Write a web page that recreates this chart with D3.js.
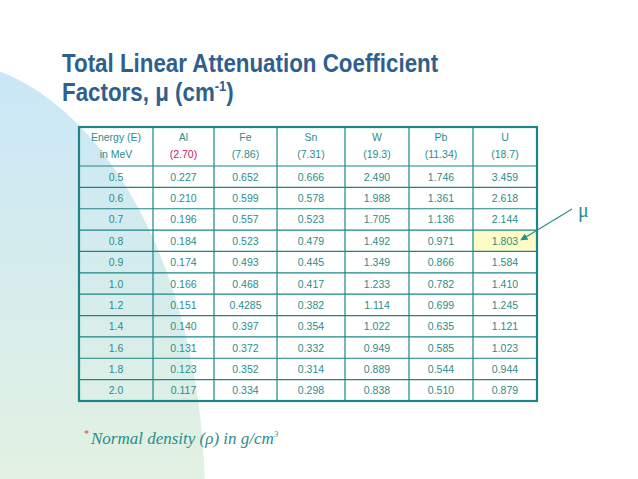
<!DOCTYPE html>
<html><head><meta charset="utf-8">
<script src="https://cdn.jsdelivr.net/npm/d3@7.9.0/dist/d3.min.js"></script>
<style>body{margin:0;background:#fff}svg{display:block}</style></head>
<body><svg id="c" width="638" height="479"></svg>
<script>
const elements = ["Al", "Fe", "Sn", "W", "Pb", "U"];
const densities = ["(2.70)", "(7.86)", "(7.31)", "(19.3)", "(11.34)", "(18.7)"];
const energies = ["0.5","0.6","0.7","0.8","0.9","1.0","1.2","1.4","1.6","1.8","2.0"];
const al = ["0.227","0.210","0.196","0.184","0.174","0.166","0.151","0.140","0.131","0.123","0.117"];
const fe = ["0.652","0.599","0.557","0.523","0.493","0.468","0.4285","0.397","0.372","0.352","0.334"];
const sn = ["0.666","0.578","0.523","0.479","0.445","0.417","0.382","0.354","0.332","0.314","0.298"];
const w  = ["2.490","1.988","1.705","1.492","1.349","1.233","1.114","1.022","0.949","0.889","0.838"];
const pb = ["1.746","1.361","1.136","0.971","0.866","0.782","0.699","0.635","0.585","0.544","0.510"];
const u  = ["3.459","2.618","2.144","1.803","1.584","1.410","1.245","1.121","1.023","0.944","0.879"];
const columns = [energies, al, fe, sn, w, pb, u];

const svg = d3.select("#c");
const teal = "#2b8d8a", line = "#1d8585";

// background shape
const defs = svg.append("defs");
const grad = defs.append("linearGradient").attr("id","bg").attr("x1",0).attr("y1",0).attr("x2",0).attr("y2",1);
grad.append("stop").attr("offset","0%").attr("stop-color","#c9e7f8");
grad.append("stop").attr("offset","55%").attr("stop-color","#e6f3df");
grad.append("stop").attr("offset","100%").attr("stop-color","#f9fbcc");
svg.append("ellipse").attr("cx",-60).attr("cy",500).attr("rx",265).attr("ry",440).attr("fill","url(#bg)");

// title
const title = svg.append("text").attr("font-family","Liberation Sans, Arial").attr("font-weight","bold")
  .attr("font-size",26).attr("fill","#2f5f8f").attr("transform","translate(62,0) scale(0.86,1)");
title.append("tspan").attr("x",0).attr("y",72).text("Total Linear Attenuation Coefficient");
title.append("tspan").attr("x",0).attr("y",101).text("Factors, \u03bc  (cm");
title.append("tspan").attr("font-size",15).attr("dy",-10).text("-1");
title.append("tspan").attr("dy",10).text(")");

// table
const colEdges = [79, 153, 214, 277, 345, 409, 473, 537];
const tableTop = 127, headBottom = 166, tableBottom = 401;
const y = d3.scaleBand().domain(energies).range([headBottom, tableBottom]);
const cx = i => (colEdges[i] + colEdges[i+1]) / 2;

// highlight cell U 0.8
svg.append("rect").attr("x", colEdges[6]).attr("y", y("0.8")).attr("width", colEdges[7]-colEdges[6])
  .attr("height", y.bandwidth()).attr("fill","#fdfcc6");

const g = svg.append("g").attr("font-family","Liberation Sans, Arial").attr("font-size",10.5).attr("text-anchor","middle").attr("fill",teal);
const hdr = [["Energy (E)","in MeV"]].concat(elements.map((e,i)=>[e, densities[i]]));
hdr.forEach((h,i)=>{
  g.append("text").attr("x",cx(i)).attr("y",141).text(h[0]);
  g.append("text").attr("x",cx(i)).attr("y",158).attr("fill", i===1 ? "#c0206a" : teal).text(h[1]);
});
columns.forEach((col,i)=>{
  g.selectAll(null).data(col).join("text")
    .attr("x",cx(i)).attr("y",(d,j)=>y(energies[j]) + y.bandwidth()/2 + 4).text(d=>d);
});
const gl = svg.append("g").attr("stroke",line).attr("stroke-width",1.2);
colEdges.slice(1,-1).forEach(e=>gl.append("line").attr("x1",e).attr("x2",e).attr("y1",tableTop).attr("y2",tableBottom));
energies.forEach(e=>gl.append("line").attr("x1",colEdges[0]).attr("x2",colEdges[7]).attr("y1",y(e)).attr("y2",y(e)));
svg.append("rect").attr("x",colEdges[0]).attr("y",tableTop).attr("width",colEdges[7]-colEdges[0]).attr("height",tableBottom-tableTop)
  .attr("fill","none").attr("stroke",line).attr("stroke-width",2.2);

// mu pointer
defs.append("marker").attr("id","ah").attr("viewBox","0 0 10 10").attr("refX",9).attr("refY",5)
  .attr("markerWidth",6).attr("markerHeight",6).attr("orient","auto")
  .append("path").attr("d","M0,0L10,5L0,10z").attr("fill",teal);
svg.append("line").attr("x1",572).attr("y1",209).attr("x2",521).attr("y2",240)
  .attr("stroke",teal).attr("stroke-width",1.2).attr("marker-end","url(#ah)");
svg.append("text").attr("x",578).attr("y",217).attr("font-family","Liberation Serif").attr("font-size",20).attr("fill",teal).text("\u03bc");

// footnote
svg.append("text").attr("x",84).attr("y",437).attr("font-size",10).attr("fill","#d0455a").attr("font-family","Liberation Serif").text("*");
const fn = svg.append("text").attr("x",91).attr("y",444).attr("font-family","Liberation Serif").attr("font-style","italic")
  .attr("font-size",17).attr("fill",teal).text("Normal density (\u03c1) in g/cm");
fn.append("tspan").attr("font-size",9).attr("dy",-7).text("3");
</script></body></html>
